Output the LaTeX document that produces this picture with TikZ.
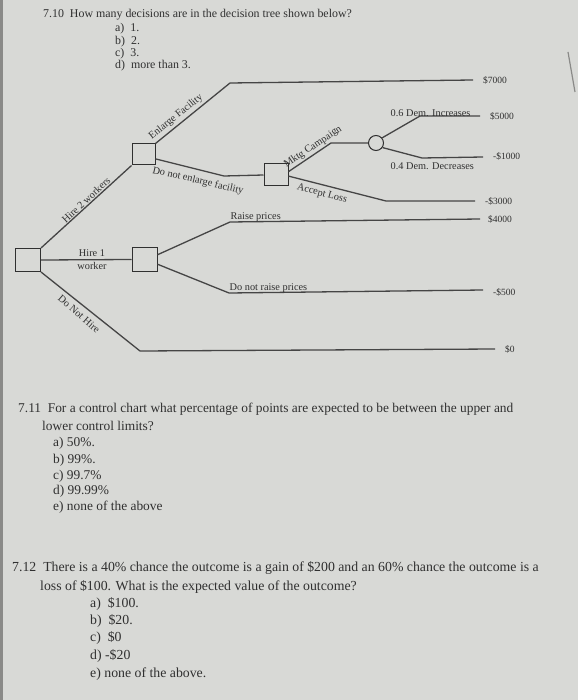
\documentclass[tikz,border=0pt]{standalone}
\usepackage{fontspec}
\setmainfont{Liberation Serif}
\definecolor{paper}{HTML}{D8D9D6}
\definecolor{ink}{HTML}{303030}
\definecolor{edge}{HTML}{8A8A88}
\begin{document}
\begin{tikzpicture}[x=1pt,y=-1pt,
  dec/.style={draw=ink,line width=1pt,fill=paper,inner sep=0pt,minimum width=24pt,minimum height=22pt},
  chance/.style={draw=ink,line width=1pt,fill=paper,circle,inner sep=0pt,minimum size=15pt},
  br/.style={draw=ink!90,line width=1.3pt},
  lab/.style={text=ink,font=\fontsize{10.3}{11}\selectfont,inner sep=0.5pt},
  val/.style={text=ink,font=\fontsize{9.5}{10}\selectfont,anchor=west,inner sep=0pt},
  qa/.style={text=ink,font=\fontsize{11.9}{13}\selectfont,anchor=west,inner sep=0pt},
  qb/.style={text=ink,font=\fontsize{13.4}{15}\selectfont,anchor=west,inner sep=0pt},
  qc/.style={text=ink,font=\fontsize{13.8}{16}\selectfont,anchor=west,inner sep=0pt}]
\fill[paper] (0,0) rectangle (578,700);
\useasboundingbox (0,0) rectangle (578,700);
\fill[edge] (0,0) rectangle (2.5,700);
\draw[edge,line width=1.2pt] (568,52) -- (575,92);

% question 7.10
\node[qa] (q1) at (43,15) {7.10\enspace How many decisions are in the decision tree shown below?};
\node[qa] (q1a) at (115,29) {a)\enspace 1.};
\node[qa] (q1b) at (115,42) {b)\enspace 2.};
\node[qa] (q1c) at (115,54) {c)\enspace 3.};
\node[qa] (q1d) at (115,66) {d)\enspace more than 3.};

% decision tree nodes
\node[dec,minimum width=25pt,minimum height=23pt] (d1) at (28,260) {};
\node[dec,minimum width=23pt,minimum height=21pt] (d2) at (143.5,154.5) {};
\node[dec,minimum width=25pt,minimum height=23pt] (d3) at (144.5,259.5) {};
\node[dec] (d4) at (276,175) {};
\node[chance] (c1) at (376,143) {};

% bend points and ends
\coordinate (bdnh) at (140,351);
\coordinate (ednh) at (495,349);
\coordinate (benl) at (230,83);
\coordinate (eenl) at (473,80);
\coordinate (bdne) at (224,176);
\coordinate (bmk) at (331,143);
\coordinate (binc) at (420,116);
\coordinate (einc) at (480,116);
\coordinate (bdec) at (422,158);
\coordinate (edec) at (483,157);
\coordinate (bal) at (386,201);
\coordinate (eal) at (475,201);
\coordinate (brp) at (230,222);
\coordinate (erp) at (480,219);
\coordinate (bdnr) at (229,293);
\coordinate (ednr) at (483,290);

% branches
\draw[br] (d1.north east) -- (d2.south west);
\draw[br] (d1.east) -- (d3.west);
\draw[br] (d1.south east) -- (bdnh) -- (ednh);
\draw[br] (d2.north east) -- (benl) -- (eenl);
\draw[br] (d2.-20) -- (bdne) -- (d4.west);
\draw[br] (d4.15) -- (bmk) -- (c1.west);
\draw[br] (d4.-5) -- (bal) -- (eal);
\draw[br] (c1.40) -- (binc) -- (einc);
\draw[br] (c1.-35) -- (bdec) -- (edec);
\draw[br] (d3.20) -- (brp) -- (erp);
\draw[br] (d3.-20) -- (bdnr) -- (ednr);

% payoffs
\node[val] (v1) at (483,80) {\$7000};
\node[val] (v2) at (490,116) {\$5000};
\node[val] (v3) at (493,156) {-\$1000};
\node[val] (v4) at (485,201) {-\$3000};
\node[val] (v5) at (488,219) {\$4000};
\node[val] (v6) at (493,292) {-\$500};
\node[val] (v7) at (505,349) {\$0};

% branch labels
\node[lab,rotate=43] (lh2) at (86,200) {Hire 2 workers};
\node[lab,align=center,font=\fontsize{10.3}{13}\selectfont] (lh1) at (92,259.5) {Hire 1\\worker};
\node[lab,rotate=-41] (ldnh) at (79,314) {Do Not Hire};
\node[lab,rotate=39] (lenl) at (176,117) {Enlarge Facility};
\node[lab,rotate=-13] (ldne) at (198,181) {Do not enlarge facility};
\node[lab,rotate=34] (lmk) at (313,147) {Mktg Campaign};
\node[lab,rotate=-15] (lal) at (322,194) {Accept Loss};
\node[lab,anchor=base west] (lrp) at (230,220) {Raise prices};
\node[lab,anchor=base west] (ldnr) at (229,290) {Do not raise prices};
\node[lab,anchor=base west] (linc) at (390,116.5) {0.6 Dem. Increases};
\node[lab,anchor=west] (ldec) at (390,166) {0.4 Dem. Decreases};

% question 7.11
\node[qb] (q2) at (18,409) {7.11\enspace For a control chart what percentage of points are expected to be between the upper and};
\node[qb] (q2l) at (42,426) {lower control limits?};
\node[qb] (q2a) at (53,443) {a) 50\%.};
\node[qb] (q2b) at (53,460) {b) 99\%.};
\node[qb] (q2c) at (53,476) {c) 99.7\%};
\node[qb] (q2d) at (53,491) {d) 99.99\%};
\node[qb] (q2e) at (53,507) {e) none of the above};

% question 7.12
\node[qc] (q3) at (12,568) {7.12\enspace There is a 40\% chance the outcome is a gain of \$200 and an 60\% chance the outcome is a};
\node[qc] (q3l) at (40,587) {loss of \$100. What is the expected value of the outcome?};
\node[qc] (q3a) at (90,604) {a)\enspace \$100.};
\node[qc] (q3b) at (90,621) {b)\enspace \$20.};
\node[qc] (q3c) at (90,638) {c)\enspace \$0};
\node[qc] (q3d) at (90,656) {d) -\$20};
\node[qc] (q3e) at (90,674) {e) none of the above.};
\end{tikzpicture}
\end{document}
